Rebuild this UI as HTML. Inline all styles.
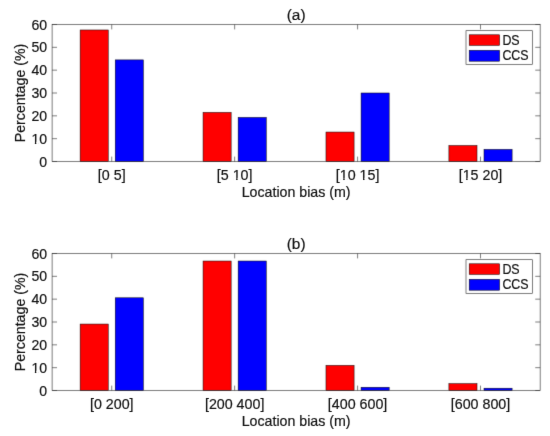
<!DOCTYPE html>
<html><head><meta charset="utf-8"><title>Location bias</title><style>
html,body{margin:0;padding:0;background:#fff;}
body{width:550px;height:436px;overflow:hidden;}
svg{display:block;}
text{font-family:"Liberation Sans",Arial,Helvetica,sans-serif;fill:#141414;stroke:#141414;stroke-width:0.2px;}
</style></head><body>
<svg width="550" height="436" viewBox="0 0 550 436">
<defs><filter id="soft" filterUnits="userSpaceOnUse" x="0" y="0" width="550" height="436" color-interpolation-filters="sRGB"><feConvolveMatrix order="3" kernelMatrix="1 8 1 8 64 8 1 8 1" divisor="100" edgeMode="duplicate"/></filter><filter id="softt" filterUnits="userSpaceOnUse" x="0" y="0" width="550" height="436" color-interpolation-filters="sRGB"><feConvolveMatrix order="3" kernelMatrix="0 1 0 1 12 1 0 1 0" divisor="16" edgeMode="none"/></filter></defs>
<g filter="url(#soft)">
<rect x="0" y="0" width="550" height="436" fill="#fff"/>
<rect x="80.13" y="29.98" width="28.1" height="131.52" fill="#f00" stroke="#000" stroke-width="0.5"/>
<rect x="115.23" y="59.892" width="28.1" height="101.608" fill="#00f" stroke="#000" stroke-width="0.5"/>
<rect x="203.05" y="112.408" width="28.1" height="49.092" fill="#f00" stroke="#000" stroke-width="0.5"/>
<rect x="238.15" y="117.432" width="28.1" height="44.068" fill="#00f" stroke="#000" stroke-width="0.5"/>
<rect x="325.98" y="132.045" width="28.1" height="29.455" fill="#f00" stroke="#000" stroke-width="0.5"/>
<rect x="361.08" y="93" width="28.1" height="68.5" fill="#00f" stroke="#000" stroke-width="0.5"/>
<rect x="448.9" y="145.517" width="28.1" height="15.983" fill="#f00" stroke="#000" stroke-width="0.5"/>
<rect x="484" y="149.398" width="28.1" height="12.102" fill="#00f" stroke="#000" stroke-width="0.5"/>
<rect x="52.1" y="24.5" width="488.05" height="137" fill="none" stroke="#262626" stroke-width="0.6"/>
<path d="M52.1 161.5h4.9M540.15 161.5h-4.9" stroke="#262626" stroke-width="0.6"/>
<path d="M52.1 138.667h4.9M540.15 138.667h-4.9" stroke="#262626" stroke-width="0.6"/>
<path d="M52.1 115.833h4.9M540.15 115.833h-4.9" stroke="#262626" stroke-width="0.6"/>
<path d="M52.1 93h4.9M540.15 93h-4.9" stroke="#262626" stroke-width="0.6"/>
<path d="M52.1 70.167h4.9M540.15 70.167h-4.9" stroke="#262626" stroke-width="0.6"/>
<path d="M52.1 47.333h4.9M540.15 47.333h-4.9" stroke="#262626" stroke-width="0.6"/>
<path d="M52.1 24.5h4.9M540.15 24.5h-4.9" stroke="#262626" stroke-width="0.6"/>
<path d="M111.73 161.5v-4.9M111.73 24.5v4.9" stroke="#262626" stroke-width="0.6"/>
<path d="M234.65 161.5v-4.9M234.65 24.5v4.9" stroke="#262626" stroke-width="0.6"/>
<path d="M357.58 161.5v-4.9M357.58 24.5v4.9" stroke="#262626" stroke-width="0.6"/>
<path d="M480.5 161.5v-4.9M480.5 24.5v4.9" stroke="#262626" stroke-width="0.6"/>
<rect x="466" y="30.7" width="66.3" height="33.7" fill="#fff" stroke="#262626" stroke-width="0.6"/>
<rect x="469.2" y="34.8" width="30.4" height="10.6" fill="#f00" stroke="#000" stroke-width="0.5"/>
<rect x="469.2" y="50.3" width="30.4" height="10.9" fill="#00f" stroke="#000" stroke-width="0.5"/>
<rect x="80.13" y="324.055" width="28.1" height="66.445" fill="#f00" stroke="#000" stroke-width="0.5"/>
<rect x="115.23" y="297.797" width="28.1" height="92.703" fill="#00f" stroke="#000" stroke-width="0.5"/>
<rect x="203.05" y="261.035" width="28.1" height="129.465" fill="#f00" stroke="#000" stroke-width="0.5"/>
<rect x="238.15" y="261.035" width="28.1" height="129.465" fill="#00f" stroke="#000" stroke-width="0.5"/>
<rect x="325.98" y="365.383" width="28.1" height="25.117" fill="#f00" stroke="#000" stroke-width="0.5"/>
<rect x="361.08" y="387.303" width="28.1" height="3.197" fill="#00f" stroke="#000" stroke-width="0.5"/>
<rect x="448.9" y="383.65" width="28.1" height="6.85" fill="#f00" stroke="#000" stroke-width="0.5"/>
<rect x="484" y="388.217" width="28.1" height="2.283" fill="#00f" stroke="#000" stroke-width="0.5"/>
<rect x="52.1" y="253.5" width="488.05" height="137" fill="none" stroke="#262626" stroke-width="0.6"/>
<path d="M52.1 390.5h4.9M540.15 390.5h-4.9" stroke="#262626" stroke-width="0.6"/>
<path d="M52.1 367.667h4.9M540.15 367.667h-4.9" stroke="#262626" stroke-width="0.6"/>
<path d="M52.1 344.833h4.9M540.15 344.833h-4.9" stroke="#262626" stroke-width="0.6"/>
<path d="M52.1 322h4.9M540.15 322h-4.9" stroke="#262626" stroke-width="0.6"/>
<path d="M52.1 299.167h4.9M540.15 299.167h-4.9" stroke="#262626" stroke-width="0.6"/>
<path d="M52.1 276.333h4.9M540.15 276.333h-4.9" stroke="#262626" stroke-width="0.6"/>
<path d="M52.1 253.5h4.9M540.15 253.5h-4.9" stroke="#262626" stroke-width="0.6"/>
<path d="M111.73 390.5v-4.9M111.73 253.5v4.9" stroke="#262626" stroke-width="0.6"/>
<path d="M234.65 390.5v-4.9M234.65 253.5v4.9" stroke="#262626" stroke-width="0.6"/>
<path d="M357.58 390.5v-4.9M357.58 253.5v4.9" stroke="#262626" stroke-width="0.6"/>
<path d="M480.5 390.5v-4.9M480.5 253.5v4.9" stroke="#262626" stroke-width="0.6"/>
<rect x="466" y="259.7" width="66.3" height="33.7" fill="#fff" stroke="#262626" stroke-width="0.6"/>
<rect x="469.2" y="263.8" width="30.4" height="10.6" fill="#f00" stroke="#000" stroke-width="0.5"/>
<rect x="469.2" y="279.3" width="30.4" height="10.9" fill="#00f" stroke="#000" stroke-width="0.5"/>
</g>
<g filter="url(#softt)">
<g transform="translate(47.1 166.55) scale(0.94 1)"><text id="t0" text-anchor="end" font-size="15.0">0</text></g>
<g transform="translate(47.1 143.717) scale(0.94 1)"><text id="t1" text-anchor="end" font-size="15.0">10</text><rect x="-16.241" y="-1.871" width="3.213" height="2.421" fill="#fff" stroke="none"/><rect x="-11.463" y="-1.871" width="2.739" height="2.421" fill="#fff" stroke="none"/></g>
<g transform="translate(47.1 120.883) scale(0.94 1)"><text id="t2" text-anchor="end" font-size="15.0">20</text></g>
<g transform="translate(47.1 98.05) scale(0.94 1)"><text id="t3" text-anchor="end" font-size="15.0">30</text></g>
<g transform="translate(47.1 75.217) scale(0.94 1)"><text id="t4" text-anchor="end" font-size="15.0">40</text></g>
<g transform="translate(47.1 52.383) scale(0.94 1)"><text id="t5" text-anchor="end" font-size="15.0">50</text></g>
<g transform="translate(47.1 29.55) scale(0.94 1)"><text id="t6" text-anchor="end" font-size="15.0">60</text></g>
<g transform="translate(111.73 179.7)"><text id="t7" text-anchor="middle" font-size="14.25">[0 5]</text></g>
<g transform="translate(234.65 179.7)"><text id="t8" text-anchor="middle" font-size="14.25">[5 10]</text><rect x="-1.583" y="-1.815" width="3.046" height="2.365" fill="#fff" stroke="none"/><rect x="2.963" y="-1.815" width="2.602" height="2.365" fill="#fff" stroke="none"/></g>
<g transform="translate(357.58 179.7)"><text id="t9" text-anchor="middle" font-size="14.25">[10 15]</text><rect x="-17.418" y="-1.815" width="3.046" height="2.365" fill="#fff" stroke="none"/><rect x="-12.873" y="-1.815" width="2.602" height="2.365" fill="#fff" stroke="none"/><rect x="2.394" y="-1.815" width="3.046" height="2.365" fill="#fff" stroke="none"/><rect x="6.939" y="-1.815" width="2.602" height="2.365" fill="#fff" stroke="none"/></g>
<g transform="translate(480.5 179.7)"><text id="t10" text-anchor="middle" font-size="14.25">[15 20]</text><rect x="-17.418" y="-1.815" width="3.046" height="2.365" fill="#fff" stroke="none"/><rect x="-12.873" y="-1.815" width="2.602" height="2.365" fill="#fff" stroke="none"/></g>
<g transform="translate(296.125 196.8)"><text id="t11" text-anchor="middle" font-size="14.2">Location bias (m)</text></g>
<g transform="translate(296.125 20.3)"><text id="t12" text-anchor="middle" font-size="15.4">(a)</text></g>
<g transform="translate(25.4 93) rotate(-90)"><text id="t13" text-anchor="middle" font-size="14.2">Percentage (%)</text></g>
<g transform="translate(502.4 44.6) scale(0.9 1)"><text id="t14" font-size="13.8">DS</text></g>
<g transform="translate(502.4 60) scale(0.9 1)"><text id="t15" font-size="13.8">CCS</text></g>
<g transform="translate(47.1 395.55) scale(0.94 1)"><text id="t16" text-anchor="end" font-size="15.0">0</text></g>
<g transform="translate(47.1 372.717) scale(0.94 1)"><text id="t17" text-anchor="end" font-size="15.0">10</text><rect x="-16.241" y="-1.871" width="3.213" height="2.421" fill="#fff" stroke="none"/><rect x="-11.463" y="-1.871" width="2.739" height="2.421" fill="#fff" stroke="none"/></g>
<g transform="translate(47.1 349.883) scale(0.94 1)"><text id="t18" text-anchor="end" font-size="15.0">20</text></g>
<g transform="translate(47.1 327.05) scale(0.94 1)"><text id="t19" text-anchor="end" font-size="15.0">30</text></g>
<g transform="translate(47.1 304.217) scale(0.94 1)"><text id="t20" text-anchor="end" font-size="15.0">40</text></g>
<g transform="translate(47.1 281.383) scale(0.94 1)"><text id="t21" text-anchor="end" font-size="15.0">50</text></g>
<g transform="translate(47.1 258.55) scale(0.94 1)"><text id="t22" text-anchor="end" font-size="15.0">60</text></g>
<g transform="translate(111.73 408.7)"><text id="t23" text-anchor="middle" font-size="14.25">[0 200]</text></g>
<g transform="translate(234.65 408.7)"><text id="t24" text-anchor="middle" font-size="14.25">[200 400]</text></g>
<g transform="translate(357.58 408.7)"><text id="t25" text-anchor="middle" font-size="14.25">[400 600]</text></g>
<g transform="translate(480.5 408.7)"><text id="t26" text-anchor="middle" font-size="14.25">[600 800]</text></g>
<g transform="translate(296.125 425.8)"><text id="t27" text-anchor="middle" font-size="14.2">Location bias (m)</text></g>
<g transform="translate(296.125 249.3)"><text id="t28" text-anchor="middle" font-size="15.4">(b)</text></g>
<g transform="translate(25.4 322) rotate(-90)"><text id="t29" text-anchor="middle" font-size="14.2">Percentage (%)</text></g>
<g transform="translate(502.4 273.6) scale(0.9 1)"><text id="t30" font-size="13.8">DS</text></g>
<g transform="translate(502.4 289) scale(0.9 1)"><text id="t31" font-size="13.8">CCS</text></g>
</g>
</svg>
</body></html>
